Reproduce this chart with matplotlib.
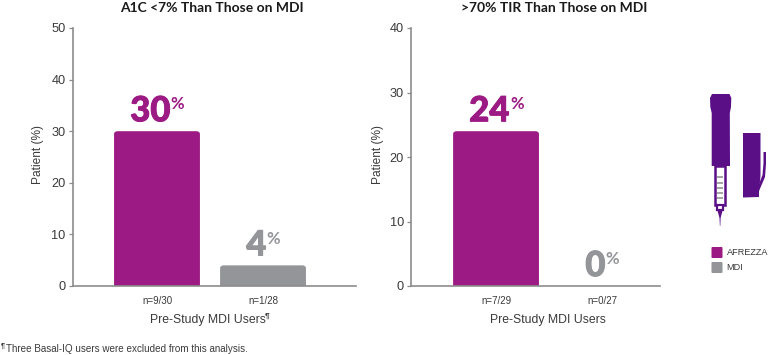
import matplotlib
matplotlib.use("Agg")
import matplotlib.pyplot as plt
import matplotlib.patheffects as pe
from matplotlib.patches import PathPatch, Rectangle, Polygon, FancyBboxPatch
from matplotlib.path import Path

W, H = 768, 355
PURPLE = "#9C1A83"
GRAY = "#939598"
PEN = "#5A0F87"
AXIS = "#8c8c8c"
TXT = "#3a3a3a"

groups = ["AFREZZA", "MDI"]
left_title = "A1C <7% Than Those on MDI"
right_title = ">70% TIR Than Those on MDI"
left_values = [30, 4]
right_values = [24, 0]
left_n = ["n=9/30", "n=1/28"]
right_n = ["n=7/29", "n=0/27"]
left_xlabel = "Pre-Study MDI Users"
right_xlabel = "Pre-Study MDI Users"
left_ticks = [0, 10, 20, 30, 40, 50]
right_ticks = [0, 10, 20, 30, 40]
dagger = "\u00b6"
footnote = "Three Basal-IQ users were excluded from this analysis."
colors = [PURPLE, GRAY]

fig = plt.figure(figsize=(W / 100, H / 100), dpi=100)
sans = "Liberation Sans"
disp = "Lato"


def px_axes(x0, x1, y0, y1, **kw):
    return fig.add_axes([x0 / W, 1 - y1 / H, (x1 - x0) / W, (y1 - y0) / H], **kw)


def rounded_bar(ax, x, top, width, color, rx, ry):
    if top <= 0:
        return
    l, r = x - width / 2, x + width / 2
    ry = min(ry, top)
    verts = [(l, 0), (l, top - ry), (l, top), (l + rx, top), (r - rx, top),
             (r, top), (r, top - ry), (r, 0), (l, 0)]
    codes = [Path.MOVETO, Path.LINETO, Path.CURVE3, Path.CURVE3, Path.LINETO,
             Path.CURVE3, Path.CURVE3, Path.LINETO, Path.CLOSEPOLY]
    ax.add_patch(PathPatch(Path(verts, codes), fc=color, ec="none", zorder=2))


def panel(box, xlim, values, ticks, n_labels, xlabel, title, title_x, xlabel_x, ylabel_x):
    ax = px_axes(*box)
    ax.set_xlim(*xlim)
    ax.set_ylim(0, ticks[-1])
    ax.patch.set_alpha(0)
    for s in ("top", "right"):
        ax.spines[s].set_visible(False)
    for s in ("left", "bottom"):
        ax.spines[s].set_color(AXIS)
        ax.spines[s].set_linewidth(1.2)
    ax.set_yticks(ticks)
    ax.tick_params(axis="y", length=3.2, width=0.9, color=AXIS, pad=1.8,
                   labelsize=9.2, labelcolor=TXT)
    for t in ax.get_yticklabels():
        t.set_fontfamily(sans)
    ax.set_xticks([0, 1])
    ax.set_xticklabels(n_labels, fontsize=7, family=sans, color=TXT)
    ax.tick_params(axis="x", length=0, pad=7.5)
    fig.text(ylabel_x / W, 1 - 154.5 / H, "Patient (%)", rotation=90, ha="center",
             va="center", fontsize=8.6, family=sans, color=TXT)

    yr = ticks[-1] / 258
    for i, v in enumerate(values):
        rounded_bar(ax, i, v, 0.81, colors[i], 0.035, 3 * yr)
        t = ax.annotate(str(v), (i, v), xytext=(-4.8, 2.8), textcoords="offset points",
                        ha="center", va="bottom", fontsize=25, family=disp,
                        fontweight="black", color=colors[i],
                        path_effects=[pe.withStroke(linewidth=0.7, foreground=colors[i])])
        ax.annotate("%", xy=(1, 1), xycoords=t, xytext=(0.3, -0.8),
                    textcoords="offset points", ha="left", va="top",
                    fontsize=12, family=disp, color=colors[i], fontweight="bold")
    fig.text(xlabel_x / W, 1 - 319.5 / H, xlabel, ha="center", va="center",
             fontsize=8.8, family=sans, color=TXT)
    fig.text(title_x / W, 1 - 7.5 / H, title, ha="center", va="center",
             fontsize=9.97, family=disp, fontweight="bold", color="#1a1a1a")
    return ax


panel((72.5, 356, 28, 286), (-0.797, 1.877), left_values, left_ticks, left_n,
      left_xlabel, left_title, 212, 207.5, 38.5)
panel((410.7, 660, 28, 286), (-0.805, 1.547), right_values, right_ticks, right_n,
      right_xlabel, right_title, 554, 547.5, 378.5)

fig.text(264.5 / W, 1 - 316 / H, dagger, ha="left", va="center", fontsize=6,
         family=sans, fontweight="bold", color=TXT)
fig.text(1 / W, 1 - 346.5 / H, dagger, ha="left", va="center", fontsize=5,
         family=sans, fontweight="bold", color=TXT)
fig.text(5.5 / W, 1 - 348.5 / H, footnote, ha="left", va="center", fontsize=7.15,
         family=sans, color=TXT)

# pen illustration and legend, in pixel coordinates
ov = px_axes(0, W, 0, H)
ov.set_xlim(0, W)
ov.set_ylim(H, 0)
ov.axis("off")
ov.patch.set_alpha(0)


def rr(x, y, w, h, c, r=1.5):
    ov.add_patch(FancyBboxPatch((x + r, y + r), w - 2 * r, h - 2 * r,
                                boxstyle=f"round,pad={r},rounding_size={r}",
                                fc=c, ec="none"))


ov.add_patch(Polygon([(712, 94), (729.5, 94), (731.3, 98), (731, 107), (729.8, 113),
                      (730, 166), (711.7, 166), (711.7, 113), (710.3, 107), (710, 98)],
                     fc=PEN, ec="none"))
ov.add_patch(Rectangle((714.7, 166), 10.4, 39.2, fc="white", ec=PEN, lw=1.8))
for yy in (177, 183, 188, 193, 198):
    ov.add_patch(Rectangle((717, yy - 1.4), 5.8, 2.8, fc="#a5a5a5", ec="none"))
ov.add_patch(Rectangle((717.3, 205), 5.4, 5.2, fc="white", ec=PEN, lw=1.6))
ov.add_patch(Polygon([(717.3, 210), (722.7, 210), (720.6, 218), (720.3, 226), (719.9, 226), (719.5, 218)],
                     fc=PEN, ec="none"))
ov.add_patch(Polygon([(743, 133), (760.5, 133), (760.5, 176), (759, 191), (759, 197), (743, 197.5)],
                     fc=PEN, ec="none"))
ov.add_patch(Polygon([(766, 152), (766, 164), (765, 177), (759, 191), (759, 184), (762.5, 175), (763.5, 163), (763.5, 152)],
                     fc=PEN, ec="none"))

for g, c, y in zip(groups, colors, (252.5, 267.5)):
    rr(711.5, y - 5.5, 11, 11, c, 1)
    ov.text(726.5, y, g, ha="left", va="center", fontsize=6.6, family=sans, color=TXT)

fig.savefig("out.png", dpi=100)
